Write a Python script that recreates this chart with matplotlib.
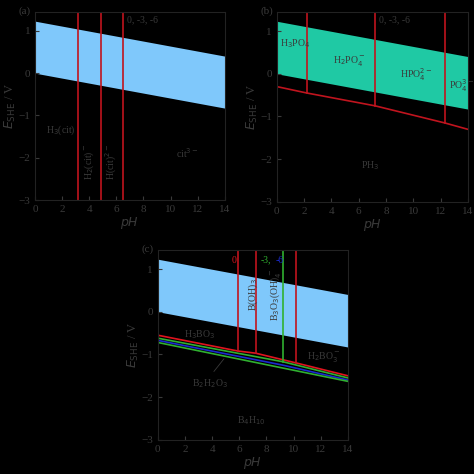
import numpy as np
import matplotlib.pyplot as plt

plt.rcParams['font.family'] = ['Liberation Serif', 'DejaVu Serif']
txt = '#3a3a3a'

ph = [0, 14]
water_top = [1.23, 1.23 - 0.059 * 14]
water_bot = [0.0, -0.059 * 14]

# panel a
a_vlines = [3.2, 4.9, 6.5]
# panel b
b_vlines = [2.2, 7.2, 12.3]
b_red_x = [0, 2.2, 7.2, 12.3, 14]
b_red_y = [-0.3, -0.45, -0.75, -1.15, -1.3]
# panel c
c_vlines_red = [5.9, 7.2, 10.2]
c_vline_green = 9.2
c_red_x = [0, 5.9, 7.2, 10.2, 14]
c_red_y = [-0.55, -0.92, -0.97, -1.2, -1.5]
c_green_x = [0, 9.2, 14]
c_green_y = [-0.62, -1.17, -1.55]
c_blue_x = [0, 9.2, 14]
c_blue_y = [-0.67, -1.25, -1.6]
c_green2_x = [0, 14]
c_green2_y = [-0.72, -1.63]

fig = plt.figure(figsize=(4.74, 4.74), dpi=100, facecolor='black')
axa = fig.add_axes([0.074, 0.578, 0.40, 0.397])
axb = fig.add_axes([0.584, 0.574, 0.403, 0.401])
axc = fig.add_axes([0.333, 0.072, 0.401, 0.401])

def style(ax, tag):
    ax.set_facecolor('black')
    ax.set_xlim(0, 14)
    ax.set_ylim(-3, 1.45)
    ax.set_xticks(range(0, 15, 2))
    ax.set_yticks([-3, -2, -1, 0, 1])
    ax.tick_params(colors=txt, labelsize=8, direction='in', length=3)
    for s in ax.spines.values():
        s.set_color('#222')
    ax.set_xlabel('$pH$', color=txt, fontsize=9, labelpad=1)
    ax.set_ylabel('$E_{\\rm SHE}$ / V', color=txt, fontsize=9, labelpad=0)
    ax.text(-1.2, 1.4, tag, color=txt, fontsize=8)

for ax, tag, col in [(axa, '(a)', '#7fc8fb'), (axb, '(b)', '#1fc9a4'), (axc, '(c)', '#7fc8fb')]:
    style(ax, tag)
    ax.fill_between(ph, water_bot, water_top, color=col, lw=0)

for x in a_vlines:
    axa.axvline(x, color='#c0141e', lw=1.2)
axa.text(6.8, 1.2, '0, -3, -6', color=txt, fontsize=7)
axa.text(0.8, -1.4, 'H$_3$(cit)', color=txt, fontsize=7)
axa.text(3.5, -2.1, 'H$_2$(cit)$^-$', color=txt, fontsize=7, rotation=90, va='center')
axa.text(5.1, -2.1, 'H(cit)$^{2-}$', color=txt, fontsize=7, rotation=90, va='center')
axa.text(10.4, -2.0, 'cit$^{3-}$', color=txt, fontsize=7)

axb.plot(b_red_x, b_red_y, color='#c0141e', lw=1.2)
for i, x in enumerate(b_vlines):
    axb.plot([x, x], [1.45, b_red_y[i + 1]], color='#c0141e', lw=1.2)
axb.text(7.5, 1.2, '0, -3, -6', color=txt, fontsize=7)
axb.text(0.2, 0.65, 'H$_3$PO$_4$', color=txt, fontsize=7)
axb.text(4.1, 0.25, 'H$_2$PO$_4^-$', color=txt, fontsize=7)
axb.text(9.0, -0.1, 'HPO$_4^{2-}$', color=txt, fontsize=7)
axb.text(12.6, -0.35, 'PO$_4^{3-}$', color=txt, fontsize=7)
axb.text(6.2, -2.2, 'PH$_3$', color=txt, fontsize=7)

axc.plot(c_red_x, c_red_y, color='#e0141e', lw=1.2)
axc.plot(c_green_x, c_green_y, color='#30b030', lw=1.2)
axc.plot(c_blue_x, c_blue_y, color='#1a2ad0', lw=1.2)
axc.plot(c_green2_x, c_green2_y, color='#30b030', lw=1.2)
for i, x in enumerate([5.9, 7.2]):
    axc.plot([x, x], [1.45, c_red_y[i + 1]], color='#c0141e', lw=1.2)
axc.plot([10.2, 10.2], [1.45, c_red_y[3]], color='#c0141e', lw=1.2)
axc.plot([c_vline_green] * 2, [1.45, c_green_y[1]], color='#30b030', lw=1.2)
axc.text(5.4, 1.15, '0', color='#e0141e', fontsize=7)
axc.text(7.6, 1.15, '-3,', color='#30b030', fontsize=7)
axc.text(8.7, 1.15, '-6', color='#1a2ad0', fontsize=7)
axc.text(6.5, 0.4, 'B(OH)$_3$', color=txt, fontsize=7, rotation=90, va='center')
axc.text(8.1, 0.4, 'B$_3$O$_3$(OH)$_4^-$', color=txt, fontsize=7, rotation=90, va='center')
axc.text(1.9, -0.6, 'H$_3$BO$_3$', color=txt, fontsize=7)
axc.text(11.0, -1.1, 'H$_2$BO$_3^-$', color=txt, fontsize=7)
axc.text(2.5, -1.75, 'B$_2$H$_2$O$_3$', color=txt, fontsize=7)
axc.annotate('', xy=(5.0, -1.05), xytext=(4.0, -1.45), arrowprops=dict(arrowstyle='-', color=txt, lw=0.6))
axc.text(5.8, -2.6, 'B$_4$H$_{10}$', color=txt, fontsize=7)

fig.savefig('out.png', dpi=100, facecolor='black')
